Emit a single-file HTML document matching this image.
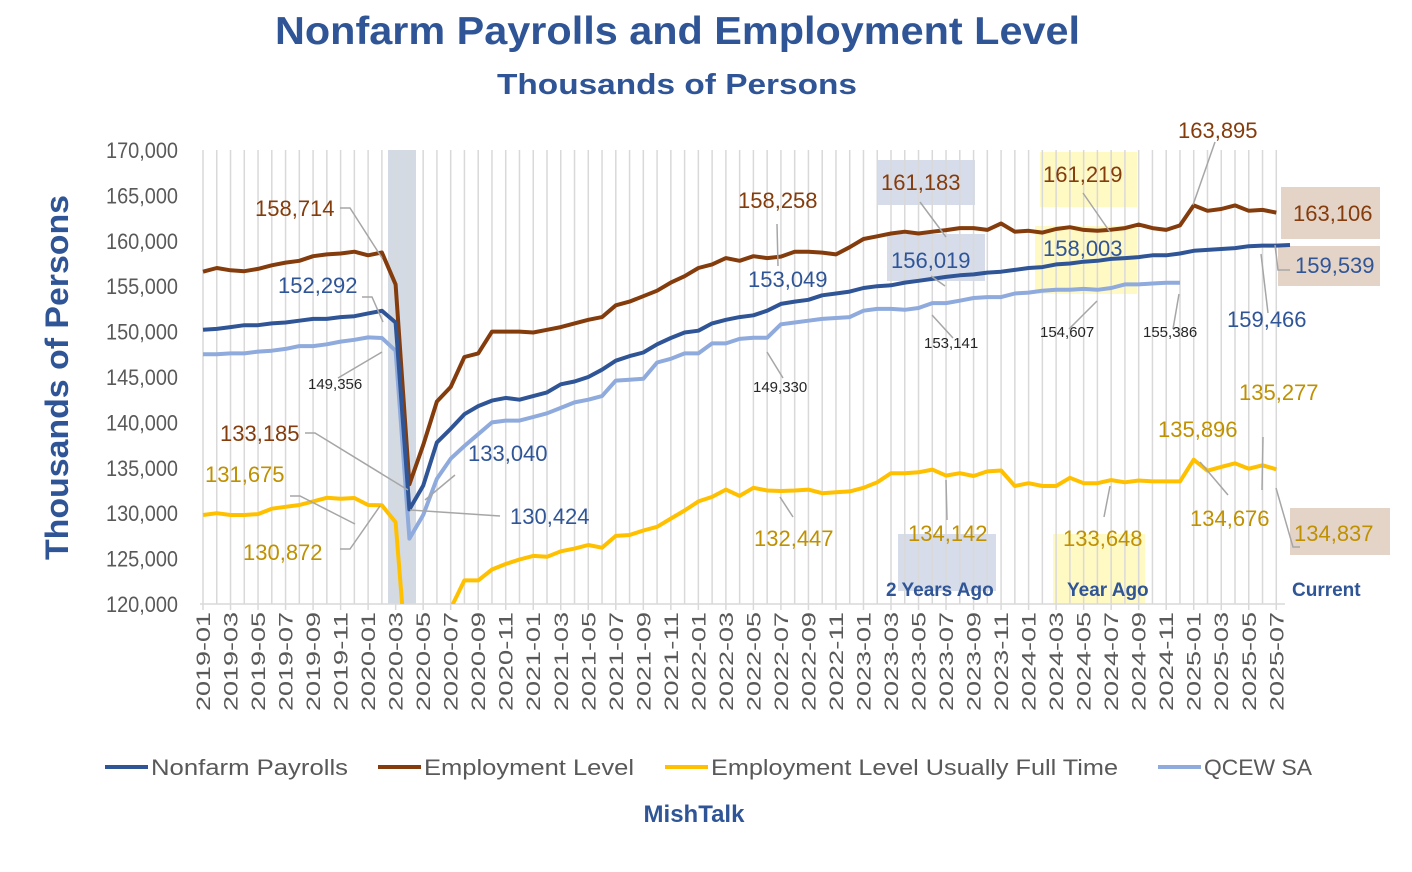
<!DOCTYPE html>
<html><head><meta charset="utf-8"><style>
body{margin:0;background:#fff;width:1412px;height:867px;overflow:hidden}
svg{font-family:"Liberation Sans",sans-serif}
</style></head><body>
<svg id="s" width="1412" height="867" xmlns="http://www.w3.org/2000/svg"></svg>
<script>
const X0=203,DX=13.76,Y0=150,K=9.08;
const X=i=>X0+DX*i, Y=v=>Y0+(170000-v)/1000*K;
const nf=[150200,150300,150500,150700,150700,150900,151000,151200,151400,151400,151600,151700,152000,152292,151000,130424,133040,137800,139300,140900,141800,142400,142700,142500,142900,143300,144200,144500,145000,145800,146800,147300,147700,148600,149300,149900,150100,150900,151300,151600,151800,152300,153049,153300,153500,154000,154200,154400,154800,155000,155100,155400,155600,155800,156019,156200,156300,156500,156600,156800,157000,157100,157400,157500,157700,157800,158003,158100,158200,158400,158400,158600,158900,159000,159100,159200,159400,159466,159466,159539];
const em=[156600,157000,156750,156650,156900,157300,157600,157800,158300,158500,158600,158800,158400,158714,155200,133185,137500,142300,143900,147200,147600,150000,150000,150000,149900,150200,150500,150900,151300,151600,152900,153300,153900,154500,155400,156100,157000,157400,158100,157800,158300,158100,158258,158800,158800,158700,158500,159300,160200,160500,160800,161000,160800,161000,161183,161400,161400,161200,161900,161000,161100,160900,161300,161500,161200,161100,161219,161400,161800,161400,161200,161700,163895,163300,163500,163900,163300,163400,163106];
const ft=[129800,130000,129800,129800,129900,130500,130700,130900,131300,131700,131600,131675,130900,130872,129000,110000,113000,116000,119500,122600,122600,123800,124400,124900,125300,125200,125800,126100,126500,126200,127500,127600,128100,128500,129400,130300,131300,131800,132600,131900,132800,132500,132447,132500,132600,132200,132300,132400,132800,133400,134400,134400,134500,134800,134142,134400,134100,134600,134700,133000,133300,133000,133000,133900,133300,133300,133648,133400,133600,133500,133500,133500,135896,134676,135100,135500,134900,135277,134837];
const qc=[147500,147500,147600,147600,147800,147900,148100,148400,148400,148600,148900,149100,149356,149300,147900,127200,129800,133800,136000,137400,138700,140000,140200,140200,140600,141000,141600,142200,142500,142900,144600,144700,144800,146600,147000,147600,147600,148700,148700,149200,149330,149330,150800,151000,151200,151400,151500,151600,152300,152500,152500,152400,152600,153141,153141,153400,153700,153800,153800,154200,154300,154500,154600,154600,154700,154607,154800,155200,155200,155300,155386,155386];
let h='';
h+='<defs><clipPath id="c"><rect x="195" y="148" width="1100" height="456"/></clipPath></defs>';
const box=(x,y,w,hh,c)=>h+=`<rect x="${x}" y="${y}" width="${w}" height="${hh}" fill="${c}"/>`;
const BL='#D6DCE9',YL='#FFF9C4',TN='#E4D4C8';
box(388,150,28,454,'#D3DAE3');
box(878,160,97,45,BL);box(887,234,98,47,BL);box(898,534,98,57,BL);
box(1040,152,97,55,YL);box(1035,226,102,68,YL);box(1053,534,92,70,YL);
box(1281,187,99,52,TN);box(1278,246,102,40,TN);box(1290,508,100,47,TN);
for(let i=0;i<79;i++)h+=`<line x1="${X(i)}" y1="150" x2="${X(i)}" y2="${i%2==0?610:604}" stroke="#D9D9D9" stroke-width="1.5"/>`;
h+=`<line x1="200" y1="604" x2="1285" y2="604" stroke="#D9D9D9" stroke-width="1.5"/>`;
for(let v=120000;v<=170000;v+=5000)h+=`<text x="178" y="${Y(v)+8}" text-anchor="end" font-size="22" fill="#595959" textLength="72" lengthAdjust="spacingAndGlyphs">${v.toLocaleString('en-US')}</text>`;
for(let i=0;i<79;i+=2){const y=2019+Math.floor(i/12),m=String(i%12+1).padStart(2,'0');h+=`<text transform="translate(${X(i)+7},612) rotate(-90)" text-anchor="end" font-size="19" fill="#595959" textLength="99" lengthAdjust="spacingAndGlyphs">${y}-${m}</text>`;}
const line=(d,c)=>h+=`<polyline clip-path="url(#c)" fill="none" stroke="${c}" stroke-width="4" stroke-linejoin="round" points="${d.map((v,i)=>X(i).toFixed(1)+','+Y(v).toFixed(1)).join(' ')}"/>`;
line(ft,'#FFC000');line(qc,'#8FAADC');line(em,'#843C0C');line(nf,'#2F5597');
const L=(pts)=>h+=`<polyline fill="none" stroke="#A6A6A6" stroke-width="1.5" points="${pts}"/>`;
L('340,208 350,208 382,258');L('362,297 372,297 383,322');L('338,378 382,352');
L('305,433 315,433 408,490');L('290,496 300,496 355,524');L('340,549 350,549 380,506');
L('455,475 425,500');L('500,516 410,510');
L('777,224 778,266');L('920,202 946,237');L('931,276 945,286');L('953,338 932,315');
L('1083,193 1110,232');L('1069,329 1097,301');L('1173,329 1179,294');L('1268,313 1261,254');
L('1275,245 1278,270 1290,270');
L('793,517 780,497');L('783,378 767,352');
L('947,520 946,480');L('1104,517 1110,486');L('1228,495 1200,462');L('1263,437 1262,490');L('1276,488 1293,547 1300,547');
L('1215,142 1193,205');
let T=(x,y,s,c,t,sz=22)=>h+=`<text x="${x}" y="${y}" font-size="${sz}" fill="${c}">${t}</text>`;
const B='#843C0C',N='#2F5597',G='#BF9000',K2='#262626';
T(255,216,0,B,'158,714');T(278,293,0,N,'152,292');T(308,389,0,K2,'149,356',15);
T(220,441,0,B,'133,185');T(205,482,0,G,'131,675');T(243,560,0,G,'130,872');
T(468,461,0,N,'133,040');T(510,524,0,N,'130,424');
T(738,208,0,B,'158,258');T(748,287,0,N,'153,049');T(753,392,0,K2,'149,330',15);
T(881,190,0,B,'161,183');T(891,268,0,N,'156,019');T(924,348,0,K2,'153,141',15);
T(1043,182,0,B,'161,219');T(1043,256,0,N,'158,003');T(1040,337,0,K2,'154,607',15);T(1143,337,0,K2,'155,386',15);
T(1178,138,0,B,'163,895');T(1293,221,0,B,'163,106');T(1295,273,0,N,'159,539');T(1227,327,0,N,'159,466');
T(1239,400,0,G,'135,277');T(1158,437,0,G,'135,896');T(1190,526,0,G,'134,676');T(1294,541,0,G,'134,837');
T(754,546,0,G,'132,447');T(908,541,0,G,'134,142');T(1063,546,0,G,'133,648');
h+=`<g font-weight="bold" font-size="19" fill="${N}"><text x="886" y="596">2 Years Ago</text><text x="1067" y="596">Year Ago</text><text x="1292" y="596">Current</text></g>`;
h+=`<text x="275" y="44" font-size="39" font-weight="bold" fill="${N}" textLength="805" lengthAdjust="spacingAndGlyphs">Nonfarm Payrolls and Employment Level</text>`;
h+=`<text x="497" y="94" font-size="29" font-weight="bold" fill="${N}" textLength="360" lengthAdjust="spacingAndGlyphs">Thousands of Persons</text>`;
h+=`<text transform="translate(68,560) rotate(-90)" font-size="32" font-weight="bold" fill="${N}" textLength="365" lengthAdjust="spacingAndGlyphs">Thousands of  Persons</text>`;
const lg=[[105,'#2F5597','Nonfarm Payrolls',197],[378,'#843C0C','Employment Level',210],[665,'#FFC000','Employment Level Usually Full Time',407],[1158,'#8FAADC','QCEW SA',108]];
lg.forEach(([x,c,t,w])=>{h+=`<line x1="${x}" y1="767" x2="${x+43}" y2="767" stroke="${c}" stroke-width="4"/>`;h+=`<text x="${x+46}" y="775" font-size="22" fill="#595959" textLength="${w}" lengthAdjust="spacingAndGlyphs">${t}</text>`;});
h+=`<text x="694" y="822" text-anchor="middle" font-size="24" font-weight="bold" fill="${N}">MishTalk</text>`;
document.getElementById('s').innerHTML=h;
</script>
</body></html>
